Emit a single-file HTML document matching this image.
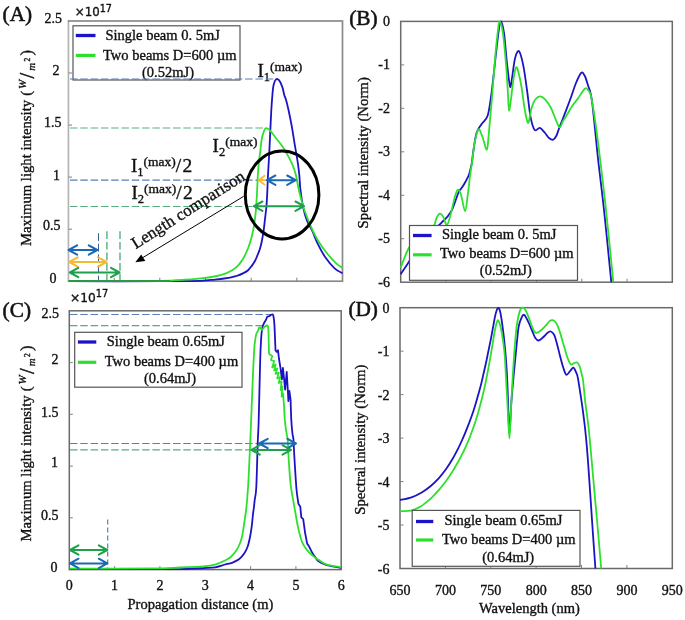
<!DOCTYPE html>
<html><head><meta charset="utf-8"><style>
html,body{margin:0;padding:0;background:#fff;}
svg{display:block;}
text{fill:#111;stroke:#111;stroke-width:0.35px;}
</style></head><body>
<svg width="685" height="620" viewBox="0 0 685 620">
<rect width="685" height="620" fill="#fff"/>
<rect x="68.5" y="21" width="274.0" height="260.2" fill="none" stroke="#8a8a8a" stroke-width="1.7"/><line x1="68.5" y1="22" x2="68.5" y2="281.2" stroke="#fff" stroke-width="2.2"/><line x1="68.4" y1="22" x2="68.4" y2="281.2" stroke="#b3b3b3" stroke-width="1.3"/><rect x="69.3" y="310.8" width="271.9" height="258.8" fill="none" stroke="#6a6a6a" stroke-width="1.5"/><rect x="400.7" y="21.4" width="271.59999999999997" height="260.8" fill="none" stroke="#6a6a6a" stroke-width="1.5"/><rect x="400.0" y="307.7" width="272.29999999999995" height="260.8" fill="none" stroke="#6a6a6a" stroke-width="1.5"/><line x1="68.5" y1="229.2" x2="72.0" y2="229.2" stroke="#808080" stroke-width="1"/><line x1="68.5" y1="177.1" x2="72.0" y2="177.1" stroke="#808080" stroke-width="1"/><line x1="68.5" y1="125.1" x2="72.0" y2="125.1" stroke="#808080" stroke-width="1"/><line x1="68.5" y1="73.0" x2="72.0" y2="73.0" stroke="#808080" stroke-width="1"/><line x1="114.2" y1="281.2" x2="114.2" y2="277.7" stroke="#808080" stroke-width="1"/><line x1="159.8" y1="281.2" x2="159.8" y2="277.7" stroke="#808080" stroke-width="1"/><line x1="205.5" y1="281.2" x2="205.5" y2="277.7" stroke="#808080" stroke-width="1"/><line x1="251.2" y1="281.2" x2="251.2" y2="277.7" stroke="#808080" stroke-width="1"/><line x1="296.8" y1="281.2" x2="296.8" y2="277.7" stroke="#808080" stroke-width="1"/><line x1="69.3" y1="517.8" x2="72.8" y2="517.8" stroke="#808080" stroke-width="1"/><line x1="69.3" y1="466.1" x2="72.8" y2="466.1" stroke="#808080" stroke-width="1"/><line x1="69.3" y1="414.3" x2="72.8" y2="414.3" stroke="#808080" stroke-width="1"/><line x1="69.3" y1="362.6" x2="72.8" y2="362.6" stroke="#808080" stroke-width="1"/><line x1="114.6" y1="569.6" x2="114.6" y2="566.1" stroke="#808080" stroke-width="1"/><line x1="159.9" y1="569.6" x2="159.9" y2="566.1" stroke="#808080" stroke-width="1"/><line x1="205.2" y1="569.6" x2="205.2" y2="566.1" stroke="#808080" stroke-width="1"/><line x1="250.6" y1="569.6" x2="250.6" y2="566.1" stroke="#808080" stroke-width="1"/><line x1="295.9" y1="569.6" x2="295.9" y2="566.1" stroke="#808080" stroke-width="1"/><line x1="400.7" y1="64.9" x2="404.2" y2="64.9" stroke="#808080" stroke-width="1"/><line x1="400.7" y1="108.3" x2="404.2" y2="108.3" stroke="#808080" stroke-width="1"/><line x1="400.7" y1="151.8" x2="404.2" y2="151.8" stroke="#808080" stroke-width="1"/><line x1="400.7" y1="195.3" x2="404.2" y2="195.3" stroke="#808080" stroke-width="1"/><line x1="400.7" y1="238.7" x2="404.2" y2="238.7" stroke="#808080" stroke-width="1"/><line x1="446.0" y1="282.2" x2="446.0" y2="278.7" stroke="#808080" stroke-width="1"/><line x1="491.2" y1="282.2" x2="491.2" y2="278.7" stroke="#808080" stroke-width="1"/><line x1="536.5" y1="282.2" x2="536.5" y2="278.7" stroke="#808080" stroke-width="1"/><line x1="581.8" y1="282.2" x2="581.8" y2="278.7" stroke="#808080" stroke-width="1"/><line x1="627.0" y1="282.2" x2="627.0" y2="278.7" stroke="#808080" stroke-width="1"/><line x1="400.0" y1="351.2" x2="403.5" y2="351.2" stroke="#808080" stroke-width="1"/><line x1="400.0" y1="394.6" x2="403.5" y2="394.6" stroke="#808080" stroke-width="1"/><line x1="400.0" y1="438.1" x2="403.5" y2="438.1" stroke="#808080" stroke-width="1"/><line x1="400.0" y1="481.6" x2="403.5" y2="481.6" stroke="#808080" stroke-width="1"/><line x1="400.0" y1="525.0" x2="403.5" y2="525.0" stroke="#808080" stroke-width="1"/><line x1="445.4" y1="568.5" x2="445.4" y2="565.0" stroke="#808080" stroke-width="1"/><line x1="490.8" y1="568.5" x2="490.8" y2="565.0" stroke="#808080" stroke-width="1"/><line x1="536.1" y1="568.5" x2="536.1" y2="565.0" stroke="#808080" stroke-width="1"/><line x1="581.5" y1="568.5" x2="581.5" y2="565.0" stroke="#808080" stroke-width="1"/><line x1="626.9" y1="568.5" x2="626.9" y2="565.0" stroke="#808080" stroke-width="1"/><text x="2.6" y="20.9" font-size="21.3" text-anchor="start" font-family="'Liberation Serif','Times New Roman',serif" style="stroke-width:0.55px">(A)</text><text x="349.2" y="25.4" font-size="21.3" text-anchor="start" font-family="'Liberation Serif','Times New Roman',serif" style="stroke-width:0.55px">(B)</text><text x="2.6" y="316.7" font-size="21.3" text-anchor="start" font-family="'Liberation Serif','Times New Roman',serif" style="stroke-width:0.55px">(C)</text><text x="348.4" y="315.8" font-size="21.3" text-anchor="start" font-family="'Liberation Serif','Times New Roman',serif" style="stroke-width:0.55px">(D)</text><text x="61.9" y="22.5" font-size="14" text-anchor="end" font-family="'Liberation Serif','Times New Roman',serif" >2.5</text><text x="59.6" y="75" font-size="14" text-anchor="end" font-family="'Liberation Serif','Times New Roman',serif" >2</text><text x="61.6" y="127" font-size="14" text-anchor="end" font-family="'Liberation Serif','Times New Roman',serif" >1.5</text><text x="60.1" y="180" font-size="14" text-anchor="end" font-family="'Liberation Serif','Times New Roman',serif" >1</text><text x="60.6" y="230.3" font-size="14" text-anchor="end" font-family="'Liberation Serif','Times New Roman',serif" >0.5</text><text x="56.4" y="282.8" font-size="14" text-anchor="end" font-family="'Liberation Serif','Times New Roman',serif" >0</text><text x="59" y="317.8" font-size="14" text-anchor="end" font-family="'Liberation Serif','Times New Roman',serif" >2.5</text><text x="58.6" y="364" font-size="14" text-anchor="end" font-family="'Liberation Serif','Times New Roman',serif" >2</text><text x="58.6" y="417.4" font-size="14" text-anchor="end" font-family="'Liberation Serif','Times New Roman',serif" >1.5</text><text x="58" y="466.7" font-size="14" text-anchor="end" font-family="'Liberation Serif','Times New Roman',serif" >1</text><text x="58.6" y="520.1" font-size="14" text-anchor="end" font-family="'Liberation Serif','Times New Roman',serif" >0.5</text><text x="57.5" y="572.4" font-size="14" text-anchor="end" font-family="'Liberation Serif','Times New Roman',serif" >0</text><text x="69.3" y="590" font-size="14" text-anchor="middle" font-family="'Liberation Serif','Times New Roman',serif" >0</text><text x="114.61666666666666" y="590" font-size="14" text-anchor="middle" font-family="'Liberation Serif','Times New Roman',serif" >1</text><text x="159.93333333333334" y="590" font-size="14" text-anchor="middle" font-family="'Liberation Serif','Times New Roman',serif" >2</text><text x="205.25" y="590" font-size="14" text-anchor="middle" font-family="'Liberation Serif','Times New Roman',serif" >3</text><text x="250.56666666666666" y="590" font-size="14" text-anchor="middle" font-family="'Liberation Serif','Times New Roman',serif" >4</text><text x="295.8833333333333" y="590" font-size="14" text-anchor="middle" font-family="'Liberation Serif','Times New Roman',serif" >5</text><text x="341.2" y="590" font-size="14" text-anchor="middle" font-family="'Liberation Serif','Times New Roman',serif" >6</text><text x="200.4" y="609.3" font-size="14.5" text-anchor="middle" font-family="'Liberation Serif','Times New Roman',serif" >Propagation distance (m)</text><text x="390" y="25.9" font-size="14" text-anchor="end" font-family="'Liberation Serif','Times New Roman',serif" >0</text><text x="389.5" y="313.0" font-size="14" text-anchor="end" font-family="'Liberation Serif','Times New Roman',serif" >0</text><text x="390" y="69.36666666666667" font-size="14" text-anchor="end" font-family="'Liberation Serif','Times New Roman',serif" >-1</text><text x="389.5" y="356.46666666666664" font-size="14" text-anchor="end" font-family="'Liberation Serif','Times New Roman',serif" >-1</text><text x="390" y="112.83333333333334" font-size="14" text-anchor="end" font-family="'Liberation Serif','Times New Roman',serif" >-2</text><text x="389.5" y="399.93333333333334" font-size="14" text-anchor="end" font-family="'Liberation Serif','Times New Roman',serif" >-2</text><text x="390" y="156.3" font-size="14" text-anchor="end" font-family="'Liberation Serif','Times New Roman',serif" >-3</text><text x="389.5" y="443.40000000000003" font-size="14" text-anchor="end" font-family="'Liberation Serif','Times New Roman',serif" >-3</text><text x="390" y="199.76666666666668" font-size="14" text-anchor="end" font-family="'Liberation Serif','Times New Roman',serif" >-4</text><text x="389.5" y="486.8666666666667" font-size="14" text-anchor="end" font-family="'Liberation Serif','Times New Roman',serif" >-4</text><text x="390" y="243.23333333333335" font-size="14" text-anchor="end" font-family="'Liberation Serif','Times New Roman',serif" >-5</text><text x="389.5" y="530.3333333333333" font-size="14" text-anchor="end" font-family="'Liberation Serif','Times New Roman',serif" >-5</text><text x="390" y="286.7" font-size="14" text-anchor="end" font-family="'Liberation Serif','Times New Roman',serif" >-6</text><text x="389.5" y="573.8" font-size="14" text-anchor="end" font-family="'Liberation Serif','Times New Roman',serif" >-6</text><text x="400.0" y="594.6" font-size="14" text-anchor="middle" font-family="'Liberation Serif','Times New Roman',serif" >650</text><text x="445.3833333333333" y="594.6" font-size="14" text-anchor="middle" font-family="'Liberation Serif','Times New Roman',serif" >700</text><text x="490.76666666666665" y="594.6" font-size="14" text-anchor="middle" font-family="'Liberation Serif','Times New Roman',serif" >750</text><text x="536.15" y="594.6" font-size="14" text-anchor="middle" font-family="'Liberation Serif','Times New Roman',serif" >800</text><text x="581.5333333333333" y="594.6" font-size="14" text-anchor="middle" font-family="'Liberation Serif','Times New Roman',serif" >850</text><text x="626.9166666666666" y="594.6" font-size="14" text-anchor="middle" font-family="'Liberation Serif','Times New Roman',serif" >900</text><text x="672.3" y="594.6" font-size="14" text-anchor="middle" font-family="'Liberation Serif','Times New Roman',serif" >950</text><text x="529.4" y="613.2" font-size="14.5" text-anchor="middle" font-family="'Liberation Serif','Times New Roman',serif" >Wavelength (nm)</text><text x="74.8" y="15.8" font-size="11.8" font-family="DejaVu Sans,sans-serif">×10<tspan dy="-4.3" font-size="9.6">17</tspan></text><text x="70" y="301.9" font-size="12.2" font-family="DejaVu Sans,sans-serif">×10<tspan dy="-4.5" font-size="9.8">17</tspan></text><g transform="translate(31.2,246) rotate(-90)" font-family="'Liberation Serif','Times New Roman',serif"><text x="0" y="0" font-size="14.7">Maximum light intensity</text><text x="150.2" y="0" font-size="14.7">(</text><text x="157" y="-5.6" font-size="11.2" font-style="italic">W</text><text x="167.4" y="2.3" font-size="20.5">/</text><text x="175.2" y="3.4" font-size="11" font-style="italic">m</text><text x="184.6" y="-1.6" font-size="7.5">2</text><text x="190.6" y="0.5" font-size="16.5">)</text></g><g transform="translate(31.2,541.5) rotate(-90)" font-family="'Liberation Serif','Times New Roman',serif"><text x="0" y="0" font-size="14.7">Maximum light intensity</text><text x="150.2" y="0" font-size="14.7">(</text><text x="157" y="-5.6" font-size="11.2" font-style="italic">W</text><text x="167.4" y="2.3" font-size="20.5">/</text><text x="175.2" y="3.4" font-size="11" font-style="italic">m</text><text x="184.6" y="-1.6" font-size="7.5">2</text><text x="190.6" y="0.5" font-size="16.5">)</text></g><text transform="translate(367.6,152.8) rotate(-90)" text-anchor="middle" font-size="14.8" font-family="'Liberation Serif','Times New Roman',serif">Spectral intensity (Norm)</text><text transform="translate(365.3,439.7) rotate(-90)" text-anchor="middle" font-size="14.7" font-family="'Liberation Serif','Times New Roman',serif">Spectral intensity (Norm)</text><line x1="70" y1="128" x2="263" y2="128" stroke="#58ad80" stroke-width="1.2" stroke-dasharray="7.5,2.8"/><line x1="70" y1="180.2" x2="268" y2="180.2" stroke="#5a7db4" stroke-width="1.2" stroke-dasharray="7.5,2.8"/><line x1="70" y1="206.5" x2="254" y2="206.5" stroke="#58ad80" stroke-width="1.2" stroke-dasharray="7.5,2.8"/><line x1="98.5" y1="233.2" x2="98.5" y2="281" stroke="#3c5c96" stroke-width="1" stroke-dasharray="7.7,2.9"/><line x1="106.9" y1="231.3" x2="106.9" y2="281" stroke="#58ad80" stroke-width="1.4" stroke-dasharray="7.7,2.9"/><line x1="120" y1="231.3" x2="120" y2="281" stroke="#58ad80" stroke-width="1.4" stroke-dasharray="7.7,2.9"/><path d="M68.5,281.2 C83.8,281.2 138.1,281.3 160.0,281.2 C181.9,281.1 190.8,281.1 200.0,280.8 C209.2,280.5 210.0,280.1 215.0,279.6 C220.0,279.1 226.4,278.2 230.0,277.6 C233.6,277.0 234.3,276.7 236.5,276.0 C238.7,275.3 241.0,274.4 242.9,273.4 C244.8,272.4 246.6,271.5 248.1,270.2 C249.6,268.9 250.7,267.2 251.9,265.6 C253.1,264.0 254.2,262.3 255.2,260.5 C256.2,258.7 256.9,256.5 257.7,254.7 C258.4,252.9 259.0,251.6 259.7,249.5 C260.4,247.4 261.0,245.3 261.6,242.3 C262.2,239.3 262.9,235.5 263.5,231.6 C264.1,227.7 264.5,223.3 265.0,219.0 C265.5,214.7 266.1,210.3 266.5,205.5 C266.9,200.7 267.1,195.1 267.4,190.0 C267.6,184.9 267.6,182.3 268.0,175.0 C268.4,167.7 269.1,156.5 269.6,146.0 C270.1,135.5 270.7,120.5 271.2,112.0 C271.7,103.5 272.0,99.5 272.4,95.0 C272.8,90.5 273.0,87.6 273.6,85.0 C274.2,82.4 275.1,80.2 276.0,79.4 C276.9,78.6 277.9,79.0 279.0,80.2 C280.1,81.5 281.4,84.4 282.3,86.9 C283.2,89.4 283.8,93.4 284.4,95.4 C285.0,97.4 285.0,96.5 285.7,98.8 C286.4,101.1 287.3,104.5 288.3,109.0 C289.3,113.5 290.6,119.7 291.7,125.9 C292.8,132.1 294.0,140.3 295.0,146.2 C296.0,152.1 296.9,156.6 297.6,161.4 C298.3,166.2 298.9,170.5 299.3,175.0 C299.8,179.5 299.7,183.2 300.3,188.6 C300.9,193.9 302.0,201.8 303.1,207.1 C304.2,212.3 305.2,216.1 306.8,220.1 C308.4,224.1 310.5,227.2 312.4,231.2 C314.2,235.2 315.8,239.9 317.9,244.2 C320.0,248.5 322.5,253.2 325.3,257.2 C328.1,261.2 331.7,265.6 334.6,268.3 C337.5,271.0 341.2,272.4 342.5,273.2" fill="none" stroke="#1c14c4" stroke-width="1.8" stroke-linejoin="round"/><path d="M68.5,281.0 C77.1,281.0 104.8,281.0 120.0,281.0 C135.2,281.0 149.2,281.0 160.0,280.8 C170.8,280.6 178.3,280.1 185.0,279.7 C191.7,279.3 196.1,278.8 200.0,278.4 C203.9,278.0 205.5,277.9 208.3,277.5 C211.1,277.1 214.1,276.6 216.9,276.0 C219.7,275.4 222.6,274.6 225.2,273.6 C227.8,272.6 230.3,271.5 232.6,270.0 C234.8,268.5 236.9,266.8 238.7,264.8 C240.5,262.8 242.0,260.5 243.4,258.2 C244.8,255.9 245.9,253.3 247.0,250.8 C248.1,248.3 249.1,245.6 249.9,243.0 C250.8,240.4 251.4,237.8 252.1,235.1 C252.8,232.4 253.3,229.7 253.8,226.9 C254.3,224.1 254.7,221.3 255.0,218.5 C255.3,215.7 255.7,212.9 255.9,210.1 C256.1,207.3 256.3,204.3 256.5,201.5 C256.7,198.7 256.9,195.8 257.0,193.0 C257.1,190.2 257.3,187.3 257.4,184.5 C257.5,181.7 257.6,178.8 257.8,176.0 C258.0,173.2 258.2,170.4 258.4,167.6 C258.6,164.8 258.9,162.1 259.2,159.4 C259.5,156.7 259.9,154.5 260.3,151.3 C260.7,148.2 261.1,143.3 261.5,140.5 C261.9,137.7 262.2,136.4 262.9,134.4 C263.5,132.4 264.3,129.1 265.4,128.4 C266.5,127.7 267.9,128.6 269.6,130.1 C271.3,131.6 273.5,135.0 275.6,137.7 C277.7,140.4 280.3,143.4 282.3,146.2 C284.3,149.0 285.7,151.6 287.4,154.7 C289.1,157.8 291.1,161.4 292.5,164.8 C293.9,168.2 294.8,170.4 295.9,175.0 C297.0,179.6 298.0,186.6 299.4,192.3 C300.8,198.0 302.1,203.4 304.0,209.0 C305.9,214.6 308.2,220.4 310.5,225.7 C312.8,230.9 315.1,235.9 317.9,240.5 C320.7,245.1 324.1,249.6 327.2,253.5 C330.3,257.4 333.9,261.3 336.5,263.7 C339.1,266.1 341.5,267.1 342.5,267.8" fill="none" stroke="#2ee02e" stroke-width="1.8" stroke-linejoin="round"/><line x1="69" y1="281" x2="170" y2="281" stroke="#2a9a40" stroke-width="2"/><path d="M68.6,250 L97.3,250 M77.1,245.3 L68.6,250 L77.1,254.7 M88.8,245.3 L97.3,250 L88.8,254.7" fill="none" stroke="#1a68b6" stroke-width="2" stroke-linecap="round" stroke-linejoin="round"/><path d="M69.2,262 L106.5,262 M77.7,257.3 L69.2,262 L77.7,266.7 M98.0,257.3 L106.5,262 L98.0,266.7" fill="none" stroke="#f5bb35" stroke-width="2" stroke-linecap="round" stroke-linejoin="round"/><path d="M69.8,272.5 L119.5,272.5 M78.3,267.8 L69.8,272.5 L78.3,277.2 M111.0,267.8 L119.5,272.5 L111.0,277.2" fill="none" stroke="#1ea04c" stroke-width="2" stroke-linecap="round" stroke-linejoin="round"/><path d="M258.8,180.2 L267,180.2 M264.5,175.8 L258.8,180.2 L264.5,184.6" fill="none" stroke="#f5bb35" stroke-width="1.8" stroke-linecap="round" stroke-linejoin="round"/><path d="M266.9,180.2 L295.7,180.2 M275.4,175.5 L266.9,180.2 L275.4,184.89999999999998 M287.2,175.5 L295.7,180.2 L287.2,184.89999999999998" fill="none" stroke="#1a68b6" stroke-width="2" stroke-linecap="round" stroke-linejoin="round"/><path d="M253.9,206.2 L304,206.2 M262.4,201.5 L253.9,206.2 L262.4,210.89999999999998 M295.5,201.5 L304,206.2 L295.5,210.89999999999998" fill="none" stroke="#1ea04c" stroke-width="2" stroke-linecap="round" stroke-linejoin="round"/><ellipse cx="282.1" cy="194.9" rx="36.8" ry="44" fill="none" stroke="#000" stroke-width="3"/><line x1="243.6" y1="196.4" x2="143" y2="257.5" stroke="#000" stroke-width="1"/><path d="M135.3,262.2 L141.2,254.4 L145.3,261.1 Z" fill="#000"/><text transform="translate(135.7,249.3) rotate(-32.4)" font-size="16.9" font-family="'Liberation Serif','Times New Roman',serif">Length comparison</text><text x="257.5" y="76.9" font-family="'Liberation Serif','Times New Roman',serif" font-size="19">I<tspan font-size="12.5" dy="4">1</tspan><tspan font-size="13.5" dy="-9.5">(max)</tspan></text><text x="212.6" y="151.5" font-family="'Liberation Serif','Times New Roman',serif" font-size="19">I<tspan font-size="12.5" dy="4">2</tspan><tspan font-size="13.5" dy="-9.5">(max)</tspan></text><text x="131" y="171.7" font-family="'Liberation Serif','Times New Roman',serif" font-size="19">I<tspan font-size="12.5" dy="4">1</tspan><tspan font-size="13.5" dy="-9.5">(max)</tspan><tspan font-size="19.5" dy="5.5">/</tspan><tspan font-size="19.5" dx="1.2">2</tspan></text><text x="131.5" y="198.7" font-family="'Liberation Serif','Times New Roman',serif" font-size="19">I<tspan font-size="12.5" dy="4">2</tspan><tspan font-size="13.5" dy="-9.5">(max)</tspan><tspan font-size="19.5" dy="5.5">/</tspan><tspan font-size="19.5" dx="1.2">2</tspan></text><rect x="73" y="25.8" width="167" height="54.2" fill="#fff" stroke="#555555" stroke-width="1.2"/><line x1="75.8" y1="35.5" x2="95.5" y2="35.5" stroke="#1c14c4" stroke-width="3.3"/><line x1="75.8" y1="55.4" x2="95.5" y2="55.4" stroke="#2ee02e" stroke-width="3.2"/><text x="105.5" y="39.8" font-size="14.5" text-anchor="start" font-family="'Liberation Serif','Times New Roman',serif" >Single beam 0. 5mJ</text><text x="103" y="59.6" font-size="14.5" text-anchor="start" font-family="'Liberation Serif','Times New Roman',serif" >Two beams D=600 µm</text><text x="142" y="76.8" font-size="14.5" text-anchor="start" font-family="'Liberation Serif','Times New Roman',serif" >(0.52mJ)</text><line x1="70" y1="79" x2="274" y2="79" stroke="#5a7db4" stroke-width="1.2" stroke-dasharray="7.5,2.8"/><line x1="70" y1="314.5" x2="272" y2="314.5" stroke="#5a7db4" stroke-width="1.2" stroke-dasharray="7.5,2.8"/><line x1="70" y1="325.7" x2="267" y2="325.7" stroke="#58ad80" stroke-width="1.2" stroke-dasharray="7.5,2.8"/><line x1="70" y1="443.5" x2="259" y2="443.5" stroke="#5a7db4" stroke-width="1.2" stroke-dasharray="7.5,2.8"/><line x1="70" y1="449.9" x2="251" y2="449.9" stroke="#58ad80" stroke-width="1.2" stroke-dasharray="7.5,2.8"/><line x1="107.7" y1="519.4" x2="107.7" y2="568" stroke="#5a7db4" stroke-width="1.2" stroke-dasharray="5,3"/><path d="M69.3,569.0 C84.4,569.0 141.6,569.0 160.0,569.0 C178.4,569.0 172.8,569.2 180.0,569.1 C187.2,569.0 197.6,568.4 203.4,568.1 C209.2,567.8 211.4,567.9 215.0,567.3 C218.6,566.7 222.2,565.2 225.0,564.5 C227.8,563.8 229.7,563.7 232.0,562.8 C234.3,561.9 237.0,560.8 239.0,559.3 C241.0,557.8 242.8,555.6 244.2,553.5 C245.6,551.4 246.7,549.2 247.7,546.5 C248.7,543.8 249.3,540.5 250.0,537.2 C250.7,533.9 251.2,530.4 251.7,526.7 C252.2,523.0 252.5,518.6 252.9,515.1 C253.3,511.6 253.8,508.3 254.1,505.8 C254.4,503.3 254.3,503.1 254.7,500.0 C255.1,496.9 255.8,496.4 256.3,487.0 C256.8,477.6 257.3,454.7 257.7,443.5 C258.1,432.3 258.3,433.9 258.7,420.0 C259.1,406.1 259.8,372.5 260.2,360.0 C260.6,347.5 260.6,349.3 260.8,345.0 C261.0,340.7 261.2,337.1 261.5,334.0 C261.8,330.9 262.2,328.2 262.7,326.3 C263.2,324.4 263.8,323.6 264.4,322.4 C265.0,321.2 265.8,320.2 266.3,319.2 C266.8,318.2 266.8,317.1 267.3,316.6 C267.8,316.1 268.6,316.6 269.2,316.3 C269.8,316.0 270.2,315.3 270.8,315.0 C271.4,314.7 272.3,314.3 272.7,314.5 C273.1,314.7 273.1,314.4 273.4,316.0 C273.7,317.6 274.1,319.6 274.4,324.4 C274.7,329.2 275.1,340.7 275.3,345.0 C275.5,349.3 275.5,349.4 275.5,350.3 L275.5,350.3 L276.8,351.8 L278.0,350.3 L279.0,359.0 L280.5,368.0 L281.9,379.4 L282.9,367.8 L284.0,378.0 L285.1,389.6 L286.7,372.0 L287.5,385.0 L288.4,401.2 L289.4,391.0 L290.6,399.8 C290.7,403.2 291.0,414.3 291.3,420.0 C291.6,425.7 292.1,430.7 292.5,434.0 C292.9,437.3 293.2,435.8 293.5,440.0 C293.8,444.2 294.0,451.2 294.5,459.3 C295.0,467.4 295.8,480.9 296.4,488.3 C297.0,495.7 298.1,501.2 298.4,503.8 L298.4,503.8 L300.3,506.7 L301.3,517.3 L303.2,519.2 L305.1,532.8 L307.1,543.4 L309.0,546.3 C309.5,547.3 310.8,550.2 311.9,552.1 C313.0,554.0 314.6,556.4 315.7,557.9 C316.8,559.4 316.6,559.9 318.2,561.0 C319.8,562.1 323.1,563.7 325.5,564.6 C327.9,565.5 330.2,565.9 332.8,566.4 C335.4,566.9 339.8,567.6 341.2,567.8" fill="none" stroke="#1c14c4" stroke-width="1.8" stroke-linejoin="round"/><path d="M69.3,568.6 C82.8,568.6 131.6,568.6 150.0,568.4 C168.4,568.2 171.1,567.8 180.0,567.5 C188.9,567.2 197.6,566.9 203.4,566.4 C209.2,565.9 211.4,565.6 215.0,564.6 C218.6,563.6 222.4,561.8 225.0,560.5 C227.6,559.2 228.9,558.8 230.8,557.0 C232.7,555.2 235.1,552.3 236.6,550.0 C238.1,547.7 239.1,545.5 240.1,543.0 C241.1,540.5 241.7,538.2 242.4,534.9 C243.1,531.6 243.6,527.2 244.2,523.3 C244.8,519.4 245.4,515.5 245.9,511.6 C246.4,507.7 246.7,505.3 247.1,500.0 C247.5,494.7 248.0,489.4 248.5,480.0 C249.0,470.6 249.6,457.2 250.2,443.5 C250.8,429.8 251.5,410.4 252.0,398.0 C252.5,385.6 252.8,377.3 253.2,369.0 C253.6,360.7 254.0,352.8 254.3,348.0 C254.6,343.2 254.9,342.3 255.2,340.0 C255.5,337.7 255.9,335.5 256.3,334.0 C256.8,332.5 257.4,331.9 257.9,330.8 C258.4,329.7 259.0,327.7 259.5,327.3 C260.0,326.9 260.4,328.1 260.8,328.5 C261.2,328.9 261.5,330.1 262.1,329.8 C262.7,329.5 263.6,327.6 264.4,326.9 C265.2,326.2 266.3,325.6 266.9,325.5 C267.5,325.4 267.6,325.2 267.9,326.3 C268.2,327.4 268.4,328.9 268.5,332.0 C268.6,335.1 268.7,341.4 268.8,345.0 C268.9,348.6 268.9,351.9 268.9,353.3 L269.8,354.5 L272.3,356.0 L270.9,360.0 L274.2,361.0 L272.2,367.5 L275.6,364.5 L274.2,370.5 L277.3,368.5 L275.6,374.0 L278.8,372.5 L277.2,378.5 L280.2,377.0 L278.8,383.0 L281.6,381.5 L280.6,390.0 L282.4,386.5 L281.6,396.5 L283.2,393.5 L283.4,399.0 L284.1,405.6 C284.2,408.0 284.4,415.4 284.8,420.0 C285.2,424.6 286.0,429.7 286.5,433.0 C287.0,436.3 287.3,435.6 287.7,440.0 C288.1,444.4 288.2,451.9 288.7,459.3 C289.2,466.7 289.8,477.3 290.6,484.4 C291.4,491.5 292.7,497.0 293.5,501.8 C294.3,506.6 294.7,508.9 295.5,513.4 C296.3,517.9 297.3,524.1 298.4,528.9 C299.5,533.7 300.8,538.9 302.2,542.4 C303.6,545.9 305.3,547.9 307.1,550.1 C308.9,552.4 311.0,554.3 312.9,555.9 C314.8,557.5 316.5,558.4 318.6,559.8 C320.7,561.2 323.1,563.1 325.5,564.1 C327.9,565.1 330.2,565.4 332.8,565.9 C335.4,566.4 339.8,567.0 341.2,567.2" fill="none" stroke="#2ee02e" stroke-width="1.8" stroke-linejoin="round"/><path d="M70,550 L107.3,550 M78.5,545.3 L70,550 L78.5,554.7 M98.8,545.3 L107.3,550 L98.8,554.7" fill="none" stroke="#1ea04c" stroke-width="2" stroke-linecap="round" stroke-linejoin="round"/><path d="M70,563.4 L107.3,563.4 M78.5,558.6999999999999 L70,563.4 L78.5,568.1 M98.8,558.6999999999999 L107.3,563.4 L98.8,568.1" fill="none" stroke="#1a68b6" stroke-width="2" stroke-linecap="round" stroke-linejoin="round"/><path d="M259.2,443.5 L296,443.5 M267.7,438.8 L259.2,443.5 L267.7,448.2 M287.5,438.8 L296,443.5 L287.5,448.2" fill="none" stroke="#1a68b6" stroke-width="2" stroke-linecap="round" stroke-linejoin="round"/><path d="M251.3,449.9 L291,449.9 M259.8,445.2 L251.3,449.9 L259.8,454.59999999999997 M282.5,445.2 L291,449.9 L282.5,454.59999999999997" fill="none" stroke="#1ea04c" stroke-width="2" stroke-linecap="round" stroke-linejoin="round"/><rect x="74.7" y="332.3" width="167.3" height="54.89999999999998" fill="#fff" stroke="#555555" stroke-width="1.2"/><line x1="77.9" y1="342" x2="96.3" y2="342" stroke="#1c14c4" stroke-width="3.3"/><line x1="77.9" y1="362.3" x2="96.3" y2="362.3" stroke="#2ee02e" stroke-width="3.2"/><text x="106.8" y="346.4" font-size="14.5" text-anchor="start" font-family="'Liberation Serif','Times New Roman',serif" >Single beam 0.65mJ</text><text x="104.7" y="365.7" font-size="14.5" text-anchor="start" font-family="'Liberation Serif','Times New Roman',serif" >Two beams D=400 µm</text><text x="144" y="383" font-size="14.5" text-anchor="start" font-family="'Liberation Serif','Times New Roman',serif" >(0.64mJ)</text><path d="M400.7,274.2 C401.9,272.4 404.8,268.2 408.0,263.3 C411.2,258.4 416.3,250.2 420.0,245.0 C423.7,239.8 426.9,235.2 430.0,232.0 C433.1,228.8 436.3,227.3 438.5,225.5 C440.7,223.7 441.6,222.5 443.1,221.0 C444.6,219.5 446.1,218.4 447.6,216.5 C449.1,214.6 450.8,212.3 452.1,209.7 C453.4,207.0 454.4,203.6 455.5,200.6 C456.6,197.6 457.8,193.8 458.9,191.6 C460.0,189.3 461.2,188.8 462.3,187.1 C463.4,185.4 464.6,183.4 465.6,181.5 C466.6,179.6 467.7,177.7 468.5,175.8 C469.3,173.9 469.6,172.4 470.2,170.2 C470.8,167.9 471.3,165.7 471.9,162.3 C472.4,158.9 472.7,154.8 473.5,150.0 C474.3,145.2 475.2,137.4 476.5,133.2 C477.8,128.9 479.4,127.5 481.3,124.5 C483.2,121.5 486.0,120.9 487.7,115.5 C489.4,110.1 490.2,103.2 491.6,92.3 C493.1,81.3 495.1,60.7 496.4,49.8 C497.7,38.9 498.5,31.2 499.3,26.6 C500.1,22.0 500.5,20.7 501.3,22.0 C502.1,23.3 503.2,27.4 504.2,34.3 C505.1,41.2 506.0,54.6 507.0,63.3 C508.0,72.0 509.2,83.9 510.0,86.5 C510.8,89.1 511.1,83.3 511.9,78.8 C512.7,74.3 513.8,63.9 514.8,59.4 C515.8,54.9 516.8,52.6 517.7,51.5 C518.6,50.4 519.0,50.5 520.0,53.0 C521.0,55.5 522.3,60.4 523.5,66.6 C524.7,72.8 525.8,81.5 527.0,90.0 C528.2,98.5 529.4,111.0 530.7,117.7 C532.0,124.4 533.2,128.3 534.7,130.0 C536.2,131.7 538.2,127.4 539.9,127.9 C541.6,128.4 543.5,131.3 545.0,133.0 C546.5,134.7 547.6,136.9 549.0,138.0 C550.4,139.1 551.9,140.1 553.1,139.7 C554.4,139.3 555.5,137.5 556.5,135.5 C557.5,133.5 557.1,133.6 559.3,127.9 C561.5,122.2 566.7,108.8 569.5,101.3 C572.3,93.8 574.0,87.8 576.0,83.0 C578.0,78.2 579.8,73.9 581.3,72.7 C582.8,71.5 583.7,74.0 584.8,76.0 C585.9,78.0 586.7,80.8 587.9,85.0 C589.1,89.2 590.3,89.0 592.0,101.3 C593.7,113.5 596.0,140.4 598.0,158.5 C600.0,176.6 601.8,189.4 604.0,210.0 C606.2,230.6 610.1,270.2 611.3,282.2" fill="none" stroke="#1c14c4" stroke-width="1.8" stroke-linejoin="round"/><path d="M400.7,267.6 C401.9,264.6 405.6,254.3 408.0,249.5 C410.4,244.7 412.7,242.2 415.0,239.0 C417.3,235.8 419.8,232.1 422.0,230.0 C424.2,227.9 426.0,227.2 428.0,226.5 C430.0,225.8 432.6,226.8 434.0,225.5 C435.4,224.2 435.4,220.7 436.3,218.7 C437.2,216.7 438.6,214.0 439.7,213.6 C440.8,213.2 441.9,214.6 443.1,216.5 C444.3,218.4 445.7,225.6 447.0,225.0 C448.3,224.4 449.8,217.5 451.0,213.1 C452.2,208.7 453.3,202.3 454.4,198.4 C455.5,194.5 456.6,190.5 457.7,189.9 C458.8,189.3 459.9,191.4 461.1,195.0 C462.3,198.6 464.0,211.6 465.1,211.4 C466.2,211.2 467.0,200.0 467.9,193.9 C468.8,187.8 469.4,180.3 470.2,174.7 C470.9,169.0 471.7,164.9 472.4,160.0 C473.1,155.1 473.2,150.1 474.2,145.0 C475.2,139.9 477.0,130.7 478.4,129.4 C479.8,128.1 481.1,133.6 482.5,137.0 C483.9,140.4 485.8,150.1 486.8,149.7 C487.8,149.3 487.9,142.8 488.7,134.8 C489.5,126.9 490.5,115.5 491.6,102.0 C492.7,88.5 494.4,66.2 495.5,53.6 C496.6,41.0 497.7,31.9 498.4,26.6 C499.1,21.3 499.3,21.7 499.9,22.0 C500.5,22.3 501.5,24.8 502.2,28.5 C502.9,32.2 503.4,36.6 504.2,44.0 C504.9,51.4 506.0,62.7 506.7,73.0 C507.4,83.3 508.2,99.7 508.6,105.8 C509.1,111.9 509.0,110.7 509.4,109.7 C509.8,108.7 510.2,105.5 510.9,100.0 C511.6,94.5 512.9,82.3 513.8,76.8 C514.7,71.3 515.5,67.8 516.3,67.2 C517.1,66.6 517.7,69.7 518.6,73.0 C519.5,76.3 520.5,81.2 521.5,87.0 C522.5,92.8 523.5,102.1 524.5,108.0 C525.5,113.9 526.9,120.8 527.7,122.5 C528.6,124.2 529.0,120.4 529.6,118.0 C530.2,115.6 530.6,111.1 531.6,108.0 C532.6,104.9 534.0,101.2 535.5,99.3 C537.0,97.4 538.7,96.4 540.3,96.4 C541.9,96.4 543.3,97.4 545.1,99.3 C546.9,101.2 549.2,104.6 551.0,108.0 C552.8,111.4 554.3,116.4 555.8,119.6 C557.2,122.8 558.5,127.2 559.7,127.4 C560.9,127.6 561.9,122.9 563.0,121.0 C564.1,119.1 564.9,118.3 566.4,115.8 C567.9,113.3 570.3,109.0 572.2,106.1 C574.1,103.2 575.9,101.3 578.0,98.4 C580.1,95.5 583.1,90.1 584.8,88.7 C586.5,87.3 587.0,88.8 588.0,90.0 C589.0,91.2 589.8,91.0 591.0,96.0 C592.2,101.0 593.5,109.6 595.0,120.0 C596.5,130.4 598.2,143.5 600.0,158.5 C601.8,173.5 603.8,189.4 606.0,210.0 C608.2,230.6 612.1,270.2 613.3,282.2" fill="none" stroke="#2ee02e" stroke-width="1.8" stroke-linejoin="round"/><rect x="409.5" y="225.5" width="168.0" height="54.80000000000001" fill="#fff" stroke="#555555" stroke-width="1.2"/><line x1="413" y1="235.5" x2="431.6" y2="235.5" stroke="#1c14c4" stroke-width="3.3"/><line x1="413" y1="254.8" x2="431.6" y2="254.8" stroke="#2ee02e" stroke-width="3.2"/><text x="442" y="239" font-size="14.5" text-anchor="start" font-family="'Liberation Serif','Times New Roman',serif" >Single beam 0. 5mJ</text><text x="440" y="257.7" font-size="14.5" text-anchor="start" font-family="'Liberation Serif','Times New Roman',serif" >Two beams D=600 µm</text><text x="479.8" y="275.3" font-size="14.5" text-anchor="start" font-family="'Liberation Serif','Times New Roman',serif" >(0.52mJ)</text><path d="M400.0,500.0 C401.9,499.6 407.9,498.6 411.5,497.3 C415.1,496.1 418.5,494.4 421.7,492.5 C424.9,490.6 427.9,488.4 430.8,486.0 C433.7,483.6 436.3,480.9 438.9,478.1 C441.4,475.3 443.8,472.2 446.1,469.0 C448.4,465.8 450.5,462.4 452.5,459.0 C454.5,455.6 456.3,452.1 458.1,448.6 C459.9,445.1 461.5,441.4 463.1,437.8 C464.7,434.2 466.2,430.5 467.6,426.9 C469.0,423.3 470.4,419.7 471.7,416.0 C473.0,412.3 474.2,408.6 475.3,404.9 C476.4,401.2 477.5,397.5 478.5,393.8 C479.5,390.1 480.6,386.4 481.5,382.6 C482.4,378.9 483.2,375.1 484.1,371.3 C485.0,367.5 485.8,363.8 486.6,360.0 C487.4,356.2 488.1,352.4 488.9,348.6 C489.7,344.8 490.5,341.1 491.2,337.3 C491.9,333.5 492.6,329.6 493.3,325.8 C494.0,322.0 494.8,317.3 495.5,314.4 C496.2,311.5 497.1,308.8 497.8,308.2 C498.6,307.6 499.2,308.3 500.0,311.0 C500.8,313.7 501.4,318.2 502.3,324.6 C503.2,331.0 504.4,341.5 505.1,349.4 C505.9,357.3 506.3,363.6 506.8,372.0 C507.3,380.4 507.6,389.8 508.0,400.0 C508.4,410.2 508.8,433.4 509.4,433.4 C510.0,433.4 510.7,410.2 511.5,400.0 C512.3,389.8 513.2,380.8 514.0,372.0 C514.8,363.2 515.6,354.6 516.4,347.1 C517.2,339.6 517.8,331.7 518.6,326.8 C519.5,321.9 520.5,319.8 521.5,317.8 C522.5,315.8 523.1,314.1 524.3,315.0 C525.5,315.9 527.5,320.2 528.9,323.1 C530.3,326.0 531.6,329.6 532.7,332.1 C533.8,334.6 534.3,336.5 535.3,337.9 C536.3,339.3 537.3,340.6 538.6,340.5 C539.9,340.4 541.6,338.6 543.1,337.3 C544.6,336.0 546.3,333.8 547.6,332.8 C548.9,331.8 549.7,331.2 550.8,331.5 C551.9,331.8 553.1,332.9 554.1,334.7 C555.1,336.5 555.6,339.1 556.6,342.5 C557.6,345.9 558.8,351.3 559.9,355.4 C561.0,359.5 562.0,363.8 563.1,367.0 C564.2,370.2 565.1,374.1 566.3,374.7 C567.5,375.3 569.0,372.1 570.2,370.9 C571.4,369.7 572.4,367.4 573.4,367.6 C574.4,367.8 575.2,370.4 576.0,372.2 C576.8,374.0 577.1,373.7 578.0,378.6 C578.9,383.5 580.5,394.2 581.6,401.7 C582.7,409.2 583.6,416.2 584.5,423.5 C585.4,430.8 586.0,437.5 586.7,445.2 C587.4,452.9 587.7,457.4 588.6,469.9 C589.5,482.4 590.9,503.6 592.0,520.0 C593.1,536.4 594.8,560.4 595.4,568.5" fill="none" stroke="#1c14c4" stroke-width="1.8" stroke-linejoin="round"/><path d="M400.0,511.1 C401.8,511.0 407.5,511.5 411.0,510.7 C414.5,509.9 417.8,508.2 421.0,506.3 C424.2,504.4 427.2,501.7 430.1,499.1 C433.0,496.5 435.7,493.5 438.3,490.6 C440.9,487.7 443.4,484.6 445.7,481.5 C448.0,478.4 450.2,475.1 452.3,471.8 C454.4,468.5 456.3,465.2 458.2,461.8 C460.1,458.4 461.8,454.9 463.5,451.5 C465.2,448.1 466.7,444.6 468.2,441.1 C469.7,437.6 471.0,434.1 472.3,430.5 C473.6,426.9 474.9,423.3 476.0,419.7 C477.1,416.1 478.2,412.5 479.2,408.9 C480.2,405.2 481.2,401.5 482.1,397.8 C483.0,394.1 483.9,390.4 484.7,386.7 C485.5,383.0 486.3,379.2 487.0,375.5 C487.7,371.8 488.4,368.1 489.1,364.3 C489.8,360.5 490.5,356.7 491.1,352.9 C491.8,349.1 492.4,345.4 493.0,341.6 C493.6,337.8 494.2,333.6 494.9,330.2 C495.6,326.8 496.6,322.8 497.2,321.2 C497.8,319.6 497.8,320.0 498.3,320.6 C498.8,321.2 499.3,322.1 500.0,324.6 C500.7,327.2 501.6,331.2 502.3,335.9 C503.1,340.6 503.9,346.8 504.5,352.8 C505.1,358.8 505.2,363.3 505.7,372.0 C506.2,380.7 506.9,393.9 507.5,405.0 C508.1,416.1 508.8,438.5 509.4,438.5 C510.0,438.5 510.6,416.1 511.2,405.0 C511.8,393.9 512.4,381.6 513.0,372.0 C513.6,362.4 514.1,355.0 514.7,347.1 C515.4,339.2 516.0,330.6 516.9,324.6 C517.8,318.6 518.9,313.8 519.8,311.0 C520.7,308.2 521.3,307.8 522.2,307.6 C523.1,307.4 524.3,308.2 525.4,309.9 C526.5,311.6 527.7,314.8 528.9,317.9 C530.1,320.9 531.5,325.7 532.7,328.2 C533.9,330.7 534.7,332.4 536.0,332.8 C537.3,333.2 538.9,332.0 540.5,330.8 C542.1,329.6 544.2,327.3 545.7,325.7 C547.2,324.1 548.3,322.0 549.5,321.1 C550.7,320.2 551.6,319.8 552.8,320.2 C554.0,320.6 555.4,321.7 556.6,323.7 C557.8,325.7 558.7,328.6 559.9,332.1 C561.1,335.7 562.4,340.7 563.7,345.0 C565.0,349.3 566.4,354.8 567.6,358.0 C568.8,361.2 569.7,363.5 570.8,364.4 C571.9,365.2 573.0,363.4 574.1,363.1 C575.2,362.8 576.3,361.9 577.3,362.5 C578.3,363.1 579.1,365.0 579.9,367.0 C580.6,369.0 581.3,372.5 581.8,374.7 C582.3,376.9 582.4,375.5 583.0,380.0 C583.6,384.5 584.4,394.4 585.2,401.7 C586.1,408.9 587.2,416.2 588.1,423.5 C589.0,430.8 589.6,437.5 590.3,445.2 C591.0,452.9 591.4,457.4 592.5,469.9 C593.6,482.4 595.5,503.6 597.0,520.0 C598.5,536.4 600.5,560.4 601.2,568.5" fill="none" stroke="#2ee02e" stroke-width="1.8" stroke-linejoin="round"/><rect x="412.2" y="510.4" width="167.8" height="55.89999999999998" fill="#fff" stroke="#555555" stroke-width="1.2"/><line x1="416" y1="521.5" x2="433.3" y2="521.5" stroke="#1c14c4" stroke-width="3.3"/><line x1="416" y1="540" x2="433.3" y2="540" stroke="#2ee02e" stroke-width="3.2"/><text x="444.5" y="524.5" font-size="14.5" text-anchor="start" font-family="'Liberation Serif','Times New Roman',serif" >Single beam 0.65mJ</text><text x="442" y="544.2" font-size="14.5" text-anchor="start" font-family="'Liberation Serif','Times New Roman',serif" >Two beams D=400 µm</text><text x="482.2" y="561.8" font-size="14.5" text-anchor="start" font-family="'Liberation Serif','Times New Roman',serif" >(0.64mJ)</text>
</svg></body></html>
